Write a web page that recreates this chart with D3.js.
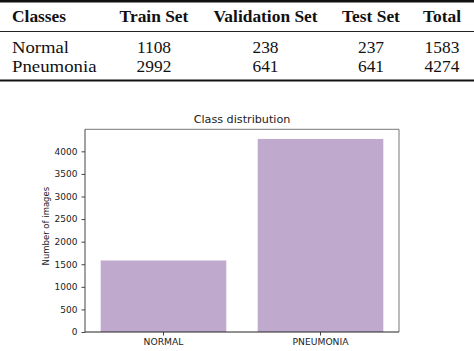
<!DOCTYPE html>
<html>
<head>
<meta charset="utf-8">
<script src="https://cdn.jsdelivr.net/npm/d3@7"></script>
<style>
  html, body { margin: 0; padding: 0; background: #fff; }
  svg { display: block; }
</style>
</head>
<body>
<svg id="fig" width="474" height="351"></svg>
<script>
// ---- Table data ----
const tableHeaders = ["Classes", "Train Set", "Validation Set", "Test Set", "Total"];
const classNames = ["Normal", "Pneumonia"];
const trainSet = [1108, 2992];
const validationSet = [238, 641];
const testSet = [237, 641];
const totalSet = [1583, 4274];

// ---- Chart data ----
const categories = ["NORMAL", "PNEUMONIA"];
const counts = [1583, 4274];
const yTicks = [0, 500, 1000, 1500, 2000, 2500, 3000, 3500, 4000];
const chartTitle = "Class distribution";
const yLabel = "Number of images";

const svg = d3.select("#fig");

// ================= TABLE =================
const tbl = svg.append("g");
const serif = "'Liberation Serif', 'Times New Roman', serif";
const W = 474;
// rules
tbl.append("line").attr("x1", 0).attr("x2", W).attr("y1", 1.3).attr("y2", 1.3)
  .attr("stroke", "#111").attr("stroke-width", 2.6);
tbl.append("line").attr("x1", 0).attr("x2", W).attr("y1", 31.5).attr("y2", 31.5)
  .attr("stroke", "#222").attr("stroke-width", 1.1);
tbl.append("line").attr("x1", 0).attr("x2", W).attr("y1", 80.5).attr("y2", 80.5)
  .attr("stroke", "#111").attr("stroke-width", 2.2);

const colX = [12, 154, 265.5, 371, 442];
const colAnchor = ["start", "middle", "middle", "middle", "middle"];
const headerY = 21.6;
const rowY = [52.8, 72.3];

tbl.selectAll("text.hdr").data(tableHeaders).join("text")
  .attr("class", "hdr")
  .attr("x", (d, i) => colX[i])
  .attr("y", headerY)
  .attr("text-anchor", (d, i) => colAnchor[i])
  .attr("font-family", serif)
  .attr("font-weight", "bold")
  .attr("font-size", 17.4)
  .attr("fill", "#111")
  .text(d => d);

const rows = classNames.map((c, i) => [c, trainSet[i], validationSet[i], testSet[i], totalSet[i]]);
const labelWidths = [57, 84.5];
rows.forEach((r, ri) => {
  tbl.selectAll("text.row" + ri).data(r).join("text")
    .attr("class", "row" + ri)
    .attr("x", (d, i) => colX[i])
    .attr("y", rowY[ri])
    .attr("text-anchor", (d, i) => colAnchor[i])
    .attr("font-family", serif)
    .attr("font-size", 17.4)
    .attr("fill", "#111")
    .each(function(d, i) {
      if (i === 0) {
        d3.select(this).attr("textLength", labelWidths[ri]).attr("lengthAdjust", "spacingAndGlyphs");
      }
    })
    .text(d => d);
});

// ================= BAR CHART =================
const plot = { left: 85, right: 399, top: 129.3, bottom: 332 };
const sans = "'DejaVu Sans', sans-serif";

const x = d3.scaleBand()
  .domain(categories)
  .range([plot.left, plot.right])
  .paddingInner(0.2)
  .paddingOuter(0.1);

const y = d3.scaleLinear()
  .domain([0, d3.max(counts) * 1.05])
  .range([plot.bottom, plot.top]);

const chart = svg.append("g");

// bars
chart.selectAll("rect.bar").data(categories).join("rect")
  .attr("class", "bar")
  .attr("x", d => x(d))
  .attr("width", x.bandwidth())
  .attr("y", (d, i) => y(counts[i]))
  .attr("height", (d, i) => y(0) - y(counts[i]))
  .attr("fill", "#bfaacd");

// frame (top / right spines)
chart.append("line").attr("x1", plot.left).attr("x2", plot.right)
  .attr("y1", plot.top).attr("y2", plot.top).attr("stroke", "#777").attr("stroke-width", 1);
chart.append("line").attr("x1", plot.right).attr("x2", plot.right)
  .attr("y1", plot.top).attr("y2", plot.bottom).attr("stroke", "#777").attr("stroke-width", 1);

// y axis
const yAxis = chart.append("g")
  .attr("transform", `translate(${plot.left},0)`)
  .call(d3.axisLeft(y).tickValues(yTicks).tickFormat(d3.format("d")).tickSize(3.5).tickPadding(4).tickSizeOuter(0));
yAxis.select(".domain").attr("stroke", "#444").attr("d", `M0,${plot.top}V${plot.bottom}`);
yAxis.selectAll(".tick line").attr("stroke", "#444");
yAxis.selectAll(".tick text").attr("font-family", sans).attr("font-size", 9).attr("fill", "#222");

// x axis
const xAxis = chart.append("g")
  .attr("transform", `translate(0,${plot.bottom})`)
  .call(d3.axisBottom(x).tickSize(3.5).tickPadding(3).tickSizeOuter(0));
xAxis.select(".domain").attr("stroke", "#222").attr("d", `M${plot.left},0H${plot.right}`);
xAxis.selectAll(".tick line").attr("stroke", "#444");
xAxis.selectAll(".tick text").attr("font-family", sans).attr("font-size", 9.2).attr("fill", "#222");

// title
chart.append("text")
  .attr("x", (plot.left + plot.right) / 2)
  .attr("y", 123.3)
  .attr("text-anchor", "middle")
  .attr("font-family", sans)
  .attr("font-size", 11.2)
  .attr("fill", "#222")
  .text(chartTitle);

// y label
chart.append("text")
  .attr("transform", `translate(48.6,${(plot.top + plot.bottom) / 2 - 4.5}) rotate(-90)`)
  .attr("text-anchor", "middle")
  .attr("font-family", sans)
  .attr("font-size", 8.5)
  .attr("fill", "#222")
  .text(yLabel);
</script>
</body>
</html>
